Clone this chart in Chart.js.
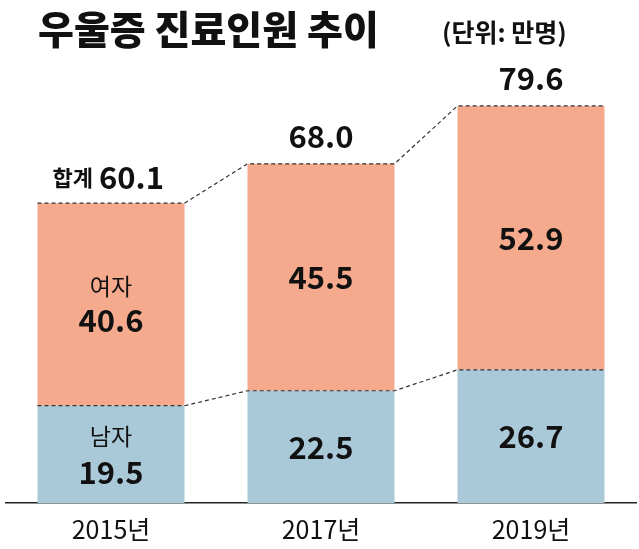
<!DOCTYPE html>
<html><head><meta charset="utf-8">
<script src="https://cdn.jsdelivr.net/npm/chart.js@4"></script>
<style>body{margin:0;background:#fff}#wrap{width:639px;height:549px}</style>
</head><body><div id="wrap"><canvas id="c"></canvas></div>
<script>
const years = ['2015년', '2017년', '2019년'];
const male = [19.5, 22.5, 26.7];
const female = [40.6, 45.5, 52.9];
const totals = [60.1, 68.0, 79.6];

const FONT = '"Noto Sans CJK KR", sans-serif';
const NUM = '"Liberation Sans Narrow", "Noto Sans CJK KR", sans-serif';

const deco = {
  id: 'deco',
  afterDatasetsDraw(chart) {
    const ctx = chart.ctx;
    const y = chart.scales.y;
    const m0 = chart.getDatasetMeta(0).data, m1 = chart.getDatasetMeta(1).data;
    ctx.save();
    // dashed lines on tops and between bars
    ctx.strokeStyle = '#333'; ctx.lineWidth = 1.2; ctx.setLineDash([4, 3]);
    [m0, m1].forEach(meta => {
      ctx.beginPath();
      meta.forEach((b, i) => {
        const l = b.x - b.width / 2, r = b.x + b.width / 2;
        if (i === 0) ctx.moveTo(l, b.y); else ctx.lineTo(l, b.y);
        ctx.lineTo(r, b.y);
      });
      ctx.stroke();
    });
    ctx.setLineDash([]);
    ctx.fillStyle = '#111'; ctx.textAlign = 'center'; ctx.textBaseline = 'middle';
    const num = '700 31px ' + NUM;
    m1.forEach((b, i) => {
      const mid = (b.y + y.getPixelForValue(male[i])) / 2;
      const mm = (m0[i].y + y.getPixelForValue(0)) / 2;
      if (i === 0) {
        ctx.font = '400 23px ' + FONT;
        ctx.fillText('여자', b.x, mid - 18);
        ctx.fillText('남자', b.x, mm - 18);
        ctx.font = num;
        ctx.fillText(female[i].toFixed(1), b.x, mid + 16);
        ctx.fillText(male[i].toFixed(1), b.x, mm + 18);
        ctx.font = '700 22px ' + FONT;
        ctx.textAlign = 'right';
        ctx.fillText('합계', b.x - 18, b.y - 26);
        ctx.textAlign = 'left';
        ctx.font = num;
        ctx.fillText(totals[i].toFixed(1), b.x - 12, b.y - 26);
        ctx.textAlign = 'center';
      } else {
        ctx.font = num;
        ctx.fillText(female[i].toFixed(1), b.x, mid);
        ctx.fillText(male[i].toFixed(1), b.x, mm);
        ctx.fillText(totals[i].toFixed(1), b.x, b.y - 28);
      }
    });
    // title
    ctx.textAlign = 'left'; ctx.textBaseline = 'alphabetic';
    ctx.font = '900 39px ' + FONT;
    ctx.fillText('우울증 진료인원 추이', 38, 44);
    ctx.font = '700 25px ' + FONT;
    ctx.fillText('(단위: 만명)', 442, 42);
    ctx.restore();
  }
};

new Chart(document.getElementById('c'), {
  type: 'bar',
  data: {
    labels: years,
    datasets: [
      { label: '남자', data: male, backgroundColor: '#a9c9d8' },
      { label: '여자', data: female, backgroundColor: '#f5aa8e' }
    ]
  },
  options: {
    responsive: true, maintainAspectRatio: false, animation: false,
    layout: { padding: { top: 70, left: 6, right: 3, bottom: 2 } },
    plugins: { legend: { display: false }, tooltip: { enabled: false } },
    datasets: { bar: { barPercentage: 0.7, categoryPercentage: 1 } },
    scales: {
      x: { stacked: true, grid: { display: false },
           border: { color: '#222', width: 1.5 },
           ticks: { color: '#111', font: { size: 25, family: FONT } } },
      y: { stacked: true, display: false, min: 0, max: 86.8 }
    }
  },
  plugins: [deco]
});
</script></body></html>
